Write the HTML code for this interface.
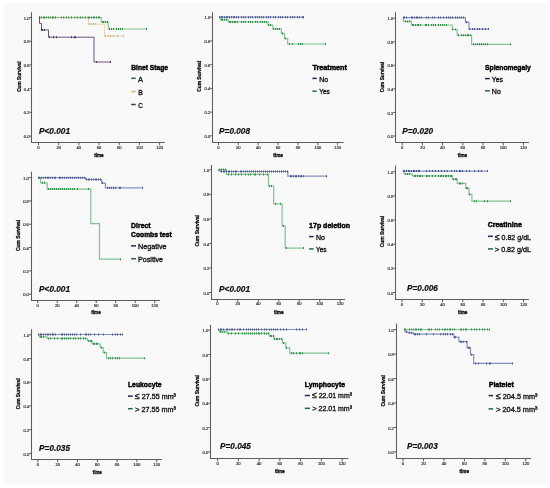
<!DOCTYPE html>
<html><head><meta charset="utf-8"><style>
html,body{margin:0;padding:0;background:#fff;width:550px;height:488px;overflow:hidden}
svg{position:absolute;left:0;top:0;display:block;filter:blur(0.3px)}
text{font-family:"Liberation Sans",sans-serif;fill:#1a1a1a}
.tk{font-size:4.1px;fill:#3a3a3a;stroke:#3a3a3a;stroke-width:0.2px}
.cum{font-size:5.5px;font-weight:bold;fill:#111;stroke:#111;stroke-width:0.3px}
.time{font-size:5.7px;font-weight:bold;fill:#111;stroke:#111;stroke-width:0.35px}
.pv{font-size:8.4px;font-weight:bold;font-style:italic;fill:#111;stroke:#111;stroke-width:0.22px}
.lt{font-size:7.5px;font-weight:bold;fill:#000;stroke:#000;stroke-width:0.45px}
.li{font-size:7.1px;fill:#151515;stroke:#151515;stroke-width:0.34px}
</style></head><body>
<svg width="550" height="488" viewBox="0 0 550 488">
<rect x="0" y="0" width="550" height="488" fill="#fff"/>
<rect x="3.5" y="3" width="543.3" height="481.4" fill="#f9f9f9"/>
<rect x="31.8" y="12.3" width="132.9" height="130" fill="#f9f9f9"/>
<path d="M31.5 12.3V142.5H164.7" fill="none" stroke="#5e5e5e" stroke-width="1.05"/>
<path d="M29.6 136.1H31.8" stroke="#4a4a4a" stroke-width="0.9"/>
<text x="29.5" y="138.2" class="tk" text-anchor="end">0.0</text>
<path d="M29.6 112.38H31.8" stroke="#4a4a4a" stroke-width="0.9"/>
<text x="29.5" y="114.48" class="tk" text-anchor="end">0.2</text>
<path d="M29.6 88.66H31.8" stroke="#4a4a4a" stroke-width="0.9"/>
<text x="29.5" y="90.76" class="tk" text-anchor="end">0.4</text>
<path d="M29.6 64.94H31.8" stroke="#4a4a4a" stroke-width="0.9"/>
<text x="29.5" y="67.04" class="tk" text-anchor="end">0.6</text>
<path d="M29.6 41.22H31.8" stroke="#4a4a4a" stroke-width="0.9"/>
<text x="29.5" y="43.32" class="tk" text-anchor="end">0.8</text>
<path d="M29.6 17.5H31.8" stroke="#4a4a4a" stroke-width="0.9"/>
<text x="29.5" y="19.6" class="tk" text-anchor="end">1.0</text>
<path d="M38.5 142.3V145.1" stroke="#4a4a4a" stroke-width="0.9"/>
<text x="38.5" y="148.6" class="tk" text-anchor="middle">0</text>
<path d="M58.68 142.3V145.1" stroke="#4a4a4a" stroke-width="0.9"/>
<text x="58.68" y="148.6" class="tk" text-anchor="middle">20</text>
<path d="M78.87 142.3V145.1" stroke="#4a4a4a" stroke-width="0.9"/>
<text x="78.87" y="148.6" class="tk" text-anchor="middle">40</text>
<path d="M99.05 142.3V145.1" stroke="#4a4a4a" stroke-width="0.9"/>
<text x="99.05" y="148.6" class="tk" text-anchor="middle">60</text>
<path d="M119.23 142.3V145.1" stroke="#4a4a4a" stroke-width="0.9"/>
<text x="119.23" y="148.6" class="tk" text-anchor="middle">80</text>
<path d="M139.42 142.3V145.1" stroke="#4a4a4a" stroke-width="0.9"/>
<text x="139.42" y="148.6" class="tk" text-anchor="middle">100</text>
<path d="M159.6 142.3V145.1" stroke="#4a4a4a" stroke-width="0.9"/>
<text x="159.6" y="148.6" class="tk" text-anchor="middle">120</text>
<path d="M39 17.5H88.5V24.1H104.5V36.1H123.9" fill="none" stroke="#e2d9b0" stroke-width="1.1"/>
<path d="M40.5 16.5V18.5M44.5 16.5V18.5M48.5 16.5V18.5M52.5 16.5V18.5M55.5 16.5V18.5M58.5 16.5V18.5M64.5 16.5V18.5M70.5 16.5V18.5M76.5 16.5V18.5M79.5 16.5V18.5M84.5 16.5V18.5M87.5 16.5V18.5M89.5 23.1V25.1M91.5 23.1V25.1M93.5 23.1V25.1M95.5 23.1V25.1M105.5 35.1V37.1M108.5 35.1V37.1M110.5 35.1V37.1M113.5 35.1V37.1M117.5 35.1V37.1M123.5 35.1V37.1" fill="none" stroke="#cdbd80" stroke-width="1.05"/>
<path d="M39 17.5H101.3V21.9H108.2V29H146.3" fill="none" stroke="#84c294" stroke-width="1.2"/>
<path d="M39.5 16.5V18.5M41.5 16.5V18.5M43.5 16.5V18.5M44.5 16.5V18.5M46.5 16.5V18.5M48.5 16.5V18.5M50.5 16.5V18.5M52.5 16.5V18.5M53.5 16.5V18.5M55.5 16.5V18.5M61.5 16.5V18.5M63.5 16.5V18.5M66.5 16.5V18.5M68.5 16.5V18.5M71.5 16.5V18.5M74.5 16.5V18.5M77.5 16.5V18.5M80.5 16.5V18.5M82.5 16.5V18.5M85.5 16.5V18.5M88.5 16.5V18.5M89.5 16.5V18.5M91.5 16.5V18.5M93.5 16.5V18.5M94.5 16.5V18.5M96.5 16.5V18.5M98.5 16.5V18.5M99.5 16.5V18.5M102.5 20.9V22.9M103.5 20.9V22.9M105.5 20.9V22.9M107.5 20.9V22.9M109.5 28V30M111.5 28V30M113.5 28V30M116.5 28V30M118.5 28V30M120.5 28V30M122.5 28V30M146.5 28V30" fill="none" stroke="#35934f" stroke-width="1.05"/>
<path d="M39 17.5H39.5V23.5H41.5V29.9H48.5V37.2H94V62H110.3" fill="none" stroke="#6c537a" stroke-width="1.0"/>
<path d="M39.5 16.5V18.5M41.5 28.9V30.9M42.5 28.9V30.9M44.5 28.9V30.9M49.5 36.2V38.2M53.5 36.2V38.2M56.5 36.2V38.2M71.5 36.2V38.2M74.5 36.2V38.2M75.5 36.2V38.2M96.5 61V63M110.5 61V63" fill="none" stroke="#553a60" stroke-width="1.05"/>
<text transform="translate(20.5 91.8) rotate(-90)" class="cum" textLength="30.3" lengthAdjust="spacingAndGlyphs">Cum Survival</text>
<text x="94.2" y="156.7" class="time" textLength="9.4" lengthAdjust="spacingAndGlyphs">time</text>
<text x="38.9" y="133.8" class="pv" textLength="31.2" lengthAdjust="spacingAndGlyphs">P&lt;0.001</text>
<text x="131.3" y="69.8" class="lt" textLength="36.7" lengthAdjust="spacingAndGlyphs">Binet Stage</text>
<path d="M131.3 78.3H135.7" stroke="#1f6a3c" stroke-width="1.5"/>
<text x="138" y="81.9" class="li" textLength="5" lengthAdjust="spacingAndGlyphs">A</text>
<path d="M131.3 91.6H135.7" stroke="#e0b850" stroke-width="1.5"/>
<text x="138.2" y="95" class="li" textLength="4.6" lengthAdjust="spacingAndGlyphs">B</text>
<path d="M131.3 104.5H135.7" stroke="#3e2e52" stroke-width="1.5"/>
<text x="138.2" y="107.8" class="li" textLength="4.6" lengthAdjust="spacingAndGlyphs">C</text>
<rect x="212.5" y="12.3" width="131" height="130" fill="#f9f9f9"/>
<path d="M212.5 12.3V142.5H343.5" fill="none" stroke="#5e5e5e" stroke-width="1.05"/>
<path d="M210.3 135.8H212.5" stroke="#4a4a4a" stroke-width="0.9"/>
<text x="210.2" y="137.9" class="tk" text-anchor="end">0.0</text>
<path d="M210.3 112.08H212.5" stroke="#4a4a4a" stroke-width="0.9"/>
<text x="210.2" y="114.18" class="tk" text-anchor="end">0.2</text>
<path d="M210.3 88.36H212.5" stroke="#4a4a4a" stroke-width="0.9"/>
<text x="210.2" y="90.46" class="tk" text-anchor="end">0.4</text>
<path d="M210.3 64.64H212.5" stroke="#4a4a4a" stroke-width="0.9"/>
<text x="210.2" y="66.74" class="tk" text-anchor="end">0.6</text>
<path d="M210.3 40.92H212.5" stroke="#4a4a4a" stroke-width="0.9"/>
<text x="210.2" y="43.02" class="tk" text-anchor="end">0.8</text>
<path d="M210.3 17.2H212.5" stroke="#4a4a4a" stroke-width="0.9"/>
<text x="210.2" y="19.3" class="tk" text-anchor="end">1.0</text>
<path d="M218.5 142.3V145.1" stroke="#4a4a4a" stroke-width="0.9"/>
<text x="218.5" y="148.6" class="tk" text-anchor="middle">0</text>
<path d="M238.37 142.3V145.1" stroke="#4a4a4a" stroke-width="0.9"/>
<text x="238.37" y="148.6" class="tk" text-anchor="middle">20</text>
<path d="M258.23 142.3V145.1" stroke="#4a4a4a" stroke-width="0.9"/>
<text x="258.23" y="148.6" class="tk" text-anchor="middle">40</text>
<path d="M278.1 142.3V145.1" stroke="#4a4a4a" stroke-width="0.9"/>
<text x="278.1" y="148.6" class="tk" text-anchor="middle">60</text>
<path d="M297.97 142.3V145.1" stroke="#4a4a4a" stroke-width="0.9"/>
<text x="297.97" y="148.6" class="tk" text-anchor="middle">80</text>
<path d="M317.83 142.3V145.1" stroke="#4a4a4a" stroke-width="0.9"/>
<text x="317.83" y="148.6" class="tk" text-anchor="middle">100</text>
<path d="M337.7 142.3V145.1" stroke="#4a4a4a" stroke-width="0.9"/>
<text x="337.7" y="148.6" class="tk" text-anchor="middle">120</text>
<path d="M219.5 17.2H220.6V19.7H228.3V21.9H268.1V25.1H272.8V28.9H281.3V33.4H284.5V38.6H287.7V44H325.6" fill="none" stroke="#84c294" stroke-width="1.2"/>
<path d="M221.5 18.7V20.7M222.5 18.7V20.7M224.5 18.7V20.7M226.5 18.7V20.7M229.5 20.9V22.9M230.5 20.9V22.9M232.5 20.9V22.9M234.5 20.9V22.9M235.5 20.9V22.9M237.5 20.9V22.9M241.5 20.9V22.9M243.5 20.9V22.9M245.5 20.9V22.9M248.5 20.9V22.9M250.5 20.9V22.9M252.5 20.9V22.9M255.5 20.9V22.9M257.5 20.9V22.9M260.5 20.9V22.9M262.5 20.9V22.9M264.5 20.9V22.9M266.5 20.9V22.9M268.5 24.1V26.1M270.5 24.1V26.1M273.5 27.9V29.9M275.5 27.9V29.9M277.5 27.9V29.9M279.5 27.9V29.9M282.5 32.4V34.4M285.5 37.6V39.6M289.5 43V45M292.5 43V45M298.5 43V45M300.5 43V45M302.5 43V45M325.5 43V45" fill="none" stroke="#35934f" stroke-width="1.05"/>
<path d="M219.5 17.2H303.6" fill="none" stroke="#8691bb" stroke-width="1.2"/>
<path d="M219.5 16.2V18.2M221.5 16.2V18.2M222.5 16.2V18.2M224.5 16.2V18.2M226.5 16.2V18.2M227.5 16.2V18.2M229.5 16.2V18.2M231.5 16.2V18.2M233.5 16.2V18.2M234.5 16.2V18.2M236.5 16.2V18.2M238.5 16.2V18.2M241.5 16.2V18.2M243.5 16.2V18.2M245.5 16.2V18.2M248.5 16.2V18.2M250.5 16.2V18.2M252.5 16.2V18.2M255.5 16.2V18.2M257.5 16.2V18.2M259.5 16.2V18.2M261.5 16.2V18.2M263.5 16.2V18.2M266.5 16.2V18.2M268.5 16.2V18.2M270.5 16.2V18.2M273.5 16.2V18.2M275.5 16.2V18.2M278.5 16.2V18.2M280.5 16.2V18.2M282.5 16.2V18.2M285.5 16.2V18.2M287.5 16.2V18.2M290.5 16.2V18.2M292.5 16.2V18.2M294.5 16.2V18.2M297.5 16.2V18.2M299.5 16.2V18.2M302.5 16.2V18.2M303.5 16.2V18.2" fill="none" stroke="#4d5a94" stroke-width="1.05"/>
<text transform="translate(200.85 91.8) rotate(-90)" class="cum" textLength="30.9" lengthAdjust="spacingAndGlyphs">Cum Survival</text>
<text x="273.3" y="156.8" class="time" textLength="9.6" lengthAdjust="spacingAndGlyphs">time</text>
<text x="219.1" y="133.6" class="pv" textLength="30.9" lengthAdjust="spacingAndGlyphs">P=0.008</text>
<text x="312.4" y="69.7" class="lt" textLength="34.5" lengthAdjust="spacingAndGlyphs">Treatment</text>
<path d="M312.4 78.4H316.7" stroke="#1e2a58" stroke-width="1.5"/>
<text x="319.2" y="81.7" class="li" textLength="9" lengthAdjust="spacingAndGlyphs">No</text>
<path d="M312.4 91.2H316.7" stroke="#1f6a3c" stroke-width="1.5"/>
<text x="319.2" y="94.3" class="li" textLength="10.5" lengthAdjust="spacingAndGlyphs">Yes</text>
<rect x="395.5" y="12.3" width="133.3" height="130.3" fill="#f9f9f9"/>
<path d="M395.5 12.3V142.5H528.8" fill="none" stroke="#5e5e5e" stroke-width="1.05"/>
<path d="M393.3 136H395.5" stroke="#4a4a4a" stroke-width="0.9"/>
<text x="393.2" y="138.1" class="tk" text-anchor="end">0.0</text>
<path d="M393.3 112.44H395.5" stroke="#4a4a4a" stroke-width="0.9"/>
<text x="393.2" y="114.54" class="tk" text-anchor="end">0.2</text>
<path d="M393.3 88.88H395.5" stroke="#4a4a4a" stroke-width="0.9"/>
<text x="393.2" y="90.98" class="tk" text-anchor="end">0.4</text>
<path d="M393.3 65.32H395.5" stroke="#4a4a4a" stroke-width="0.9"/>
<text x="393.2" y="67.42" class="tk" text-anchor="end">0.6</text>
<path d="M393.3 41.76H395.5" stroke="#4a4a4a" stroke-width="0.9"/>
<text x="393.2" y="43.86" class="tk" text-anchor="end">0.8</text>
<path d="M393.3 18.2H395.5" stroke="#4a4a4a" stroke-width="0.9"/>
<text x="393.2" y="20.3" class="tk" text-anchor="end">1.0</text>
<path d="M402.2 142.6V145.4" stroke="#4a4a4a" stroke-width="0.9"/>
<text x="402.2" y="148.9" class="tk" text-anchor="middle">0</text>
<path d="M422.4 142.6V145.4" stroke="#4a4a4a" stroke-width="0.9"/>
<text x="422.4" y="148.9" class="tk" text-anchor="middle">20</text>
<path d="M442.6 142.6V145.4" stroke="#4a4a4a" stroke-width="0.9"/>
<text x="442.6" y="148.9" class="tk" text-anchor="middle">40</text>
<path d="M462.8 142.6V145.4" stroke="#4a4a4a" stroke-width="0.9"/>
<text x="462.8" y="148.9" class="tk" text-anchor="middle">60</text>
<path d="M483 142.6V145.4" stroke="#4a4a4a" stroke-width="0.9"/>
<text x="483" y="148.9" class="tk" text-anchor="middle">80</text>
<path d="M503.2 142.6V145.4" stroke="#4a4a4a" stroke-width="0.9"/>
<text x="503.2" y="148.9" class="tk" text-anchor="middle">100</text>
<path d="M523.4 142.6V145.4" stroke="#4a4a4a" stroke-width="0.9"/>
<text x="523.4" y="148.9" class="tk" text-anchor="middle">120</text>
<path d="M402.9 17.6H403.5V21.4H411.4V25H452.3V29.5H457.2V35.3H471.6V44.3H510.6" fill="none" stroke="#84c294" stroke-width="1.2"/>
<path d="M405.5 20.4V22.4M407.5 20.4V22.4M409.5 20.4V22.4M412.5 24V26M413.5 24V26M415.5 24V26M417.5 24V26M418.5 24V26M420.5 24V26M425.5 24V26M426.5 24V26M428.5 24V26M431.5 24V26M433.5 24V26M435.5 24V26M438.5 24V26M440.5 24V26M442.5 24V26M444.5 24V26M446.5 24V26M452.5 28.5V30.5M455.5 28.5V30.5M458.5 34.3V36.3M461.5 34.3V36.3M463.5 34.3V36.3M465.5 34.3V36.3M467.5 34.3V36.3M468.5 34.3V36.3M470.5 34.3V36.3M473.5 43.3V45.3M475.5 43.3V45.3M477.5 43.3V45.3M479.5 43.3V45.3M481.5 43.3V45.3M483.5 43.3V45.3M485.5 43.3V45.3M487.5 43.3V45.3M510.5 43.3V45.3" fill="none" stroke="#35934f" stroke-width="1.05"/>
<path d="M402.9 17.6H465.4V22.2H469V29.1H488.6" fill="none" stroke="#8691bb" stroke-width="1.2"/>
<path d="M403.5 16.6V18.6M404.5 16.6V18.6M406.5 16.6V18.6M411.5 16.6V18.6M412.5 16.6V18.6M414.5 16.6V18.6M416.5 16.6V18.6M417.5 16.6V18.6M419.5 16.6V18.6M421.5 16.6V18.6M426.5 16.6V18.6M428.5 16.6V18.6M432.5 16.6V18.6M434.5 16.6V18.6M438.5 16.6V18.6M440.5 16.6V18.6M443.5 16.6V18.6M446.5 16.6V18.6M448.5 16.6V18.6M450.5 16.6V18.6M452.5 16.6V18.6M455.5 16.6V18.6M457.5 16.6V18.6M459.5 16.6V18.6M461.5 16.6V18.6M463.5 16.6V18.6M466.5 21.2V23.2M469.5 28.1V30.1M472.5 28.1V30.1M474.5 28.1V30.1M477.5 28.1V30.1M479.5 28.1V30.1M482.5 28.1V30.1M485.5 28.1V30.1M488.5 28.1V30.1" fill="none" stroke="#4d5a94" stroke-width="1.05"/>
<text transform="translate(383.95 92.3) rotate(-90)" class="cum" textLength="30.6" lengthAdjust="spacingAndGlyphs">Cum Survival</text>
<text x="457.7" y="156.8" class="time" textLength="9.5" lengthAdjust="spacingAndGlyphs">time</text>
<text x="402.3" y="133.6" class="pv" textLength="30.9" lengthAdjust="spacingAndGlyphs">P=0.020</text>
<text x="485" y="70.1" class="lt" textLength="45.8" lengthAdjust="spacingAndGlyphs">Splenomegaly</text>
<path d="M485 78.6H489.8" stroke="#1e2a58" stroke-width="1.5"/>
<text x="491.8" y="81.6" class="li" textLength="11" lengthAdjust="spacingAndGlyphs">Yes</text>
<path d="M485 90.8H489.8" stroke="#1f6a3c" stroke-width="1.5"/>
<text x="491.8" y="94" class="li" textLength="9" lengthAdjust="spacingAndGlyphs">No</text>
<rect x="31.2" y="171.7" width="128.8" height="128.5" fill="#f9f9f9"/>
<path d="M31.5 171.7V300.5H160" fill="none" stroke="#5e5e5e" stroke-width="1.05"/>
<path d="M29 294.2H31.2" stroke="#4a4a4a" stroke-width="0.9"/>
<text x="28.9" y="296.3" class="tk" text-anchor="end">0.0</text>
<path d="M29 270.88H31.2" stroke="#4a4a4a" stroke-width="0.9"/>
<text x="28.9" y="272.98" class="tk" text-anchor="end">0.2</text>
<path d="M29 247.56H31.2" stroke="#4a4a4a" stroke-width="0.9"/>
<text x="28.9" y="249.66" class="tk" text-anchor="end">0.4</text>
<path d="M29 224.24H31.2" stroke="#4a4a4a" stroke-width="0.9"/>
<text x="28.9" y="226.34" class="tk" text-anchor="end">0.6</text>
<path d="M29 200.92H31.2" stroke="#4a4a4a" stroke-width="0.9"/>
<text x="28.9" y="203.02" class="tk" text-anchor="end">0.8</text>
<path d="M29 177.6H31.2" stroke="#4a4a4a" stroke-width="0.9"/>
<text x="28.9" y="179.7" class="tk" text-anchor="end">1.0</text>
<path d="M37.7 300.2V303" stroke="#4a4a4a" stroke-width="0.9"/>
<text x="37.7" y="306.5" class="tk" text-anchor="middle">0</text>
<path d="M57.2 300.2V303" stroke="#4a4a4a" stroke-width="0.9"/>
<text x="57.2" y="306.5" class="tk" text-anchor="middle">20</text>
<path d="M76.7 300.2V303" stroke="#4a4a4a" stroke-width="0.9"/>
<text x="76.7" y="306.5" class="tk" text-anchor="middle">40</text>
<path d="M96.2 300.2V303" stroke="#4a4a4a" stroke-width="0.9"/>
<text x="96.2" y="306.5" class="tk" text-anchor="middle">60</text>
<path d="M115.7 300.2V303" stroke="#4a4a4a" stroke-width="0.9"/>
<text x="115.7" y="306.5" class="tk" text-anchor="middle">80</text>
<path d="M135.2 300.2V303" stroke="#4a4a4a" stroke-width="0.9"/>
<text x="135.2" y="306.5" class="tk" text-anchor="middle">100</text>
<path d="M154.7 300.2V303" stroke="#4a4a4a" stroke-width="0.9"/>
<text x="154.7" y="306.5" class="tk" text-anchor="middle">120</text>
<path d="M37.9 177.7H40.6V182.8H47.2V189.1H90.8V223.7H99.5V259.2H120" fill="none" stroke="#84c294" stroke-width="1.2"/>
<path d="M42.5 181.8V183.8M44.5 181.8V183.8M48.5 188.1V190.1M50.5 188.1V190.1M52.5 188.1V190.1M54.5 188.1V190.1M56.5 188.1V190.1M58.5 188.1V190.1M60.5 188.1V190.1M62.5 188.1V190.1M64.5 188.1V190.1M66.5 188.1V190.1M68.5 188.1V190.1M70.5 188.1V190.1M72.5 188.1V190.1M74.5 188.1V190.1M77.5 188.1V190.1M88.5 188.1V190.1M120.5 258.2V260.2" fill="none" stroke="#35934f" stroke-width="1.05"/>
<path d="M37.9 177.7H85.6V179.5H101.6V183.1H105.4V187.8H142.5" fill="none" stroke="#8691bb" stroke-width="1.2"/>
<path d="M38.5 176.7V178.7M39.5 176.7V178.7M41.5 176.7V178.7M43.5 176.7V178.7M45.5 176.7V178.7M47.5 176.7V178.7M48.5 176.7V178.7M50.5 176.7V178.7M52.5 176.7V178.7M54.5 176.7V178.7M55.5 176.7V178.7M59.5 176.7V178.7M60.5 176.7V178.7M62.5 176.7V178.7M64.5 176.7V178.7M66.5 176.7V178.7M68.5 176.7V178.7M70.5 176.7V178.7M72.5 176.7V178.7M74.5 176.7V178.7M76.5 176.7V178.7M78.5 176.7V178.7M80.5 176.7V178.7M82.5 176.7V178.7M84.5 176.7V178.7M86.5 178.5V180.5M88.5 178.5V180.5M89.5 178.5V180.5M91.5 178.5V180.5M93.5 178.5V180.5M95.5 178.5V180.5M96.5 178.5V180.5M98.5 178.5V180.5M100.5 178.5V180.5M102.5 182.1V184.1M107.5 186.8V188.8M109.5 186.8V188.8M111.5 186.8V188.8M113.5 186.8V188.8M115.5 186.8V188.8M119.5 186.8V188.8M120.5 186.8V188.8M142.5 186.8V188.8" fill="none" stroke="#4d5a94" stroke-width="1.05"/>
<text transform="translate(20 251) rotate(-90)" class="cum" textLength="31.2" lengthAdjust="spacingAndGlyphs">Cum Survival</text>
<text x="91.3" y="314.4" class="time" textLength="9.4" lengthAdjust="spacingAndGlyphs">time</text>
<text x="39.1" y="291.6" class="pv" textLength="30.9" lengthAdjust="spacingAndGlyphs">P&lt;0.001</text>
<text x="131.1" y="227.6" class="lt" textLength="19.5" lengthAdjust="spacingAndGlyphs">Direct</text>
<text x="131.1" y="237" class="lt" textLength="40.6" lengthAdjust="spacingAndGlyphs">Coombs test</text>
<path d="M131.1 245.9H136" stroke="#1e2a58" stroke-width="1.5"/>
<text x="138.1" y="249" class="li" textLength="28.4" lengthAdjust="spacingAndGlyphs">Negative</text>
<path d="M131.1 258.7H136" stroke="#1f6a3c" stroke-width="1.5"/>
<text x="138.1" y="261.6" class="li" textLength="24.9" lengthAdjust="spacingAndGlyphs">Positive</text>
<rect x="211.5" y="164.9" width="133.6" height="134.2" fill="#f9f9f9"/>
<path d="M211.5 164.9V299.5H345.1" fill="none" stroke="#5e5e5e" stroke-width="1.05"/>
<path d="M209.3 292.5H211.5" stroke="#4a4a4a" stroke-width="0.9"/>
<text x="209.2" y="294.6" class="tk" text-anchor="end">0.0</text>
<path d="M209.3 267.96H211.5" stroke="#4a4a4a" stroke-width="0.9"/>
<text x="209.2" y="270.06" class="tk" text-anchor="end">0.2</text>
<path d="M209.3 243.42H211.5" stroke="#4a4a4a" stroke-width="0.9"/>
<text x="209.2" y="245.52" class="tk" text-anchor="end">0.4</text>
<path d="M209.3 218.88H211.5" stroke="#4a4a4a" stroke-width="0.9"/>
<text x="209.2" y="220.98" class="tk" text-anchor="end">0.6</text>
<path d="M209.3 194.34H211.5" stroke="#4a4a4a" stroke-width="0.9"/>
<text x="209.2" y="196.44" class="tk" text-anchor="end">0.8</text>
<path d="M209.3 169.8H211.5" stroke="#4a4a4a" stroke-width="0.9"/>
<text x="209.2" y="171.9" class="tk" text-anchor="end">1.0</text>
<path d="M217.3 299.1V301.9" stroke="#4a4a4a" stroke-width="0.9"/>
<text x="217.3" y="305.4" class="tk" text-anchor="middle">0</text>
<path d="M237.78 299.1V301.9" stroke="#4a4a4a" stroke-width="0.9"/>
<text x="237.78" y="305.4" class="tk" text-anchor="middle">20</text>
<path d="M258.27 299.1V301.9" stroke="#4a4a4a" stroke-width="0.9"/>
<text x="258.27" y="305.4" class="tk" text-anchor="middle">40</text>
<path d="M278.75 299.1V301.9" stroke="#4a4a4a" stroke-width="0.9"/>
<text x="278.75" y="305.4" class="tk" text-anchor="middle">60</text>
<path d="M299.23 299.1V301.9" stroke="#4a4a4a" stroke-width="0.9"/>
<text x="299.23" y="305.4" class="tk" text-anchor="middle">80</text>
<path d="M319.72 299.1V301.9" stroke="#4a4a4a" stroke-width="0.9"/>
<text x="319.72" y="305.4" class="tk" text-anchor="middle">100</text>
<path d="M340.2 299.1V301.9" stroke="#4a4a4a" stroke-width="0.9"/>
<text x="340.2" y="305.4" class="tk" text-anchor="middle">120</text>
<path d="M217.9 169.5H226.4V174.4H268.5V186H273.7V203.8H282.1V226H285.2V248.1H303.7" fill="none" stroke="#84c294" stroke-width="1.2"/>
<path d="M219.5 168.5V170.5M221.5 168.5V170.5M223.5 168.5V170.5M225.5 168.5V170.5M228.5 173.4V175.4M231.5 173.4V175.4M235.5 173.4V175.4M238.5 173.4V175.4M241.5 173.4V175.4M245.5 173.4V175.4M248.5 173.4V175.4M250.5 173.4V175.4M254.5 173.4V175.4M255.5 173.4V175.4M259.5 173.4V175.4M263.5 173.4V175.4M267.5 173.4V175.4M269.5 185V187M271.5 185V187M275.5 202.8V204.8M280.5 202.8V204.8M283.5 225V227M286.5 247.1V249.1M303.5 247.1V249.1" fill="none" stroke="#35934f" stroke-width="1.05"/>
<path d="M217.9 170.6H220.6V171.5H287.8V176.2H326.8" fill="none" stroke="#8691bb" stroke-width="1.2"/>
<path d="M221.5 170.5V172.5M223.5 170.5V172.5M224.5 170.5V172.5M226.5 170.5V172.5M228.5 170.5V172.5M229.5 170.5V172.5M231.5 170.5V172.5M233.5 170.5V172.5M235.5 170.5V172.5M236.5 170.5V172.5M240.5 170.5V172.5M241.5 170.5V172.5M243.5 170.5V172.5M245.5 170.5V172.5M247.5 170.5V172.5M249.5 170.5V172.5M251.5 170.5V172.5M253.5 170.5V172.5M255.5 170.5V172.5M257.5 170.5V172.5M259.5 170.5V172.5M261.5 170.5V172.5M263.5 170.5V172.5M265.5 170.5V172.5M267.5 170.5V172.5M269.5 170.5V172.5M271.5 170.5V172.5M273.5 170.5V172.5M275.5 170.5V172.5M277.5 170.5V172.5M279.5 170.5V172.5M281.5 170.5V172.5M283.5 170.5V172.5M285.5 170.5V172.5M287.5 170.5V172.5M290.5 175.2V177.2M291.5 175.2V177.2M293.5 175.2V177.2M295.5 175.2V177.2M296.5 175.2V177.2M298.5 175.2V177.2M300.5 175.2V177.2M301.5 175.2V177.2M303.5 175.2V177.2M326.5 175.2V177.2" fill="none" stroke="#4d5a94" stroke-width="1.05"/>
<text transform="translate(199.15 246.6) rotate(-90)" class="cum" textLength="31.5" lengthAdjust="spacingAndGlyphs">Cum Survival</text>
<text x="274" y="313.5" class="time" textLength="9.6" lengthAdjust="spacingAndGlyphs">time</text>
<text x="219.1" y="291.6" class="pv" textLength="30.9" lengthAdjust="spacingAndGlyphs">P&lt;0.001</text>
<text x="309.1" y="227.5" class="lt" textLength="40.9" lengthAdjust="spacingAndGlyphs">17p deletion</text>
<path d="M309.1 236.6H313.6" stroke="#1e2a58" stroke-width="1.5"/>
<text x="316" y="239.9" class="li" textLength="9" lengthAdjust="spacingAndGlyphs">No</text>
<path d="M309.1 248.9H313.6" stroke="#1f6a3c" stroke-width="1.5"/>
<text x="316" y="252.4" class="li" textLength="10.5" lengthAdjust="spacingAndGlyphs">Yes</text>
<rect x="395.5" y="165.5" width="133.3" height="133.9" fill="#f9f9f9"/>
<path d="M395.5 165.5V299.5H528.8" fill="none" stroke="#5e5e5e" stroke-width="1.05"/>
<path d="M393.3 292.5H395.5" stroke="#4a4a4a" stroke-width="0.9"/>
<text x="393.2" y="294.6" class="tk" text-anchor="end">0.0</text>
<path d="M393.3 268.34H395.5" stroke="#4a4a4a" stroke-width="0.9"/>
<text x="393.2" y="270.44" class="tk" text-anchor="end">0.2</text>
<path d="M393.3 244.18H395.5" stroke="#4a4a4a" stroke-width="0.9"/>
<text x="393.2" y="246.28" class="tk" text-anchor="end">0.4</text>
<path d="M393.3 220.02H395.5" stroke="#4a4a4a" stroke-width="0.9"/>
<text x="393.2" y="222.12" class="tk" text-anchor="end">0.6</text>
<path d="M393.3 195.86H395.5" stroke="#4a4a4a" stroke-width="0.9"/>
<text x="393.2" y="197.96" class="tk" text-anchor="end">0.8</text>
<path d="M393.3 171.7H395.5" stroke="#4a4a4a" stroke-width="0.9"/>
<text x="393.2" y="173.8" class="tk" text-anchor="end">1.0</text>
<path d="M402 299.4V302.2" stroke="#4a4a4a" stroke-width="0.9"/>
<text x="402" y="305.7" class="tk" text-anchor="middle">0</text>
<path d="M422.27 299.4V302.2" stroke="#4a4a4a" stroke-width="0.9"/>
<text x="422.27" y="305.7" class="tk" text-anchor="middle">20</text>
<path d="M442.53 299.4V302.2" stroke="#4a4a4a" stroke-width="0.9"/>
<text x="442.53" y="305.7" class="tk" text-anchor="middle">40</text>
<path d="M462.8 299.4V302.2" stroke="#4a4a4a" stroke-width="0.9"/>
<text x="462.8" y="305.7" class="tk" text-anchor="middle">60</text>
<path d="M483.07 299.4V302.2" stroke="#4a4a4a" stroke-width="0.9"/>
<text x="483.07" y="305.7" class="tk" text-anchor="middle">80</text>
<path d="M503.33 299.4V302.2" stroke="#4a4a4a" stroke-width="0.9"/>
<text x="503.33" y="305.7" class="tk" text-anchor="middle">100</text>
<path d="M523.6 299.4V302.2" stroke="#4a4a4a" stroke-width="0.9"/>
<text x="523.6" y="305.7" class="tk" text-anchor="middle">120</text>
<path d="M402.9 171.1H404V173.9H412.2V175.9H452.3V179.3H457.2V183.4H465.7V188.2H469V194.4H471.9V201.2H510.6" fill="none" stroke="#84c294" stroke-width="1.2"/>
<path d="M405.5 172.9V174.9M407.5 172.9V174.9M409.5 172.9V174.9M414.5 174.9V176.9M415.5 174.9V176.9M417.5 174.9V176.9M419.5 174.9V176.9M420.5 174.9V176.9M422.5 174.9V176.9M426.5 174.9V176.9M427.5 174.9V176.9M429.5 174.9V176.9M432.5 174.9V176.9M435.5 174.9V176.9M438.5 174.9V176.9M440.5 174.9V176.9M441.5 174.9V176.9M443.5 174.9V176.9M445.5 174.9V176.9M446.5 174.9V176.9M448.5 174.9V176.9M450.5 174.9V176.9M451.5 174.9V176.9M453.5 178.3V180.3M455.5 178.3V180.3M456.5 178.3V180.3M459.5 182.4V184.4M460.5 182.4V184.4M462.5 182.4V184.4M466.5 187.2V189.2M467.5 187.2V189.2M469.5 193.4V195.4M474.5 200.2V202.2M476.5 200.2V202.2M484.5 200.2V202.2M487.5 200.2V202.2M510.5 200.2V202.2" fill="none" stroke="#35934f" stroke-width="1.05"/>
<path d="M402.9 171.1H487.7" fill="none" stroke="#8691bb" stroke-width="1.2"/>
<path d="M403.5 170.1V172.1M404.5 170.1V172.1M406.5 170.1V172.1M408.5 170.1V172.1M409.5 170.1V172.1M411.5 170.1V172.1M413.5 170.1V172.1M414.5 170.1V172.1M416.5 170.1V172.1M418.5 170.1V172.1M419.5 170.1V172.1M426.5 170.1V172.1M429.5 170.1V172.1M432.5 170.1V172.1M435.5 170.1V172.1M438.5 170.1V172.1M441.5 170.1V172.1M444.5 170.1V172.1M447.5 170.1V172.1M451.5 170.1V172.1M454.5 170.1V172.1M456.5 170.1V172.1M459.5 170.1V172.1M460.5 170.1V172.1M462.5 170.1V172.1M466.5 170.1V172.1M469.5 170.1V172.1M474.5 170.1V172.1M478.5 170.1V172.1M481.5 170.1V172.1M487.5 170.1V172.1" fill="none" stroke="#4d5a94" stroke-width="1.05"/>
<text transform="translate(384.05 247.3) rotate(-90)" class="cum" textLength="31.5" lengthAdjust="spacingAndGlyphs">Cum Survival</text>
<text x="457.9" y="313.8" class="time" textLength="9.5" lengthAdjust="spacingAndGlyphs">time</text>
<text x="407.1" y="290.6" class="pv" textLength="30.8" lengthAdjust="spacingAndGlyphs">P=0.006</text>
<text x="487.7" y="227.3" class="lt" textLength="34.1" lengthAdjust="spacingAndGlyphs">Creatinine</text>
<path d="M488 236.3H492.9" stroke="#1e2a58" stroke-width="1.5"/>
<text x="494.9" y="240" class="li" textLength="36.1" lengthAdjust="spacingAndGlyphs"><tspan style="font-size:8.6px">≤</tspan> 0.82 g/dL</text>
<path d="M488 248.9H492.9" stroke="#1f6a3c" stroke-width="1.5"/>
<text x="494.7" y="252.1" class="li" textLength="36.3" lengthAdjust="spacingAndGlyphs"><tspan style="font-size:7.6px">&gt;</tspan> 0.82 g/dL</text>
<rect x="31.5" y="329.2" width="130.3" height="130.1" fill="#f9f9f9"/>
<path d="M31.5 329.2V459.5H161.8" fill="none" stroke="#5e5e5e" stroke-width="1.05"/>
<path d="M29.3 453.4H31.5" stroke="#4a4a4a" stroke-width="0.9"/>
<text x="29.2" y="455.5" class="tk" text-anchor="end">0.0</text>
<path d="M29.3 429.68H31.5" stroke="#4a4a4a" stroke-width="0.9"/>
<text x="29.2" y="431.78" class="tk" text-anchor="end">0.2</text>
<path d="M29.3 405.96H31.5" stroke="#4a4a4a" stroke-width="0.9"/>
<text x="29.2" y="408.06" class="tk" text-anchor="end">0.4</text>
<path d="M29.3 382.24H31.5" stroke="#4a4a4a" stroke-width="0.9"/>
<text x="29.2" y="384.34" class="tk" text-anchor="end">0.6</text>
<path d="M29.3 358.52H31.5" stroke="#4a4a4a" stroke-width="0.9"/>
<text x="29.2" y="360.62" class="tk" text-anchor="end">0.8</text>
<path d="M29.3 334.8H31.5" stroke="#4a4a4a" stroke-width="0.9"/>
<text x="29.2" y="336.9" class="tk" text-anchor="end">1.0</text>
<path d="M37.9 459.3V462.1" stroke="#4a4a4a" stroke-width="0.9"/>
<text x="37.9" y="465.6" class="tk" text-anchor="middle">0</text>
<path d="M57.7 459.3V462.1" stroke="#4a4a4a" stroke-width="0.9"/>
<text x="57.7" y="465.6" class="tk" text-anchor="middle">20</text>
<path d="M77.5 459.3V462.1" stroke="#4a4a4a" stroke-width="0.9"/>
<text x="77.5" y="465.6" class="tk" text-anchor="middle">40</text>
<path d="M97.3 459.3V462.1" stroke="#4a4a4a" stroke-width="0.9"/>
<text x="97.3" y="465.6" class="tk" text-anchor="middle">60</text>
<path d="M117.1 459.3V462.1" stroke="#4a4a4a" stroke-width="0.9"/>
<text x="117.1" y="465.6" class="tk" text-anchor="middle">80</text>
<path d="M136.9 459.3V462.1" stroke="#4a4a4a" stroke-width="0.9"/>
<text x="136.9" y="465.6" class="tk" text-anchor="middle">100</text>
<path d="M156.7 459.3V462.1" stroke="#4a4a4a" stroke-width="0.9"/>
<text x="156.7" y="465.6" class="tk" text-anchor="middle">120</text>
<path d="M38.2 334.5H39.5V336.8H47.2V338.4H87.3V340.9H92.1V343.8H100.2V347.6H103.2V352.6H106.5V358.2H144.3" fill="none" stroke="#84c294" stroke-width="1.2"/>
<path d="M40.5 335.8V337.8M41.5 335.8V337.8M43.5 335.8V337.8M48.5 337.4V339.4M50.5 337.4V339.4M54.5 337.4V339.4M57.5 337.4V339.4M61.5 337.4V339.4M62.5 337.4V339.4M64.5 337.4V339.4M66.5 337.4V339.4M68.5 337.4V339.4M70.5 337.4V339.4M73.5 337.4V339.4M75.5 337.4V339.4M78.5 337.4V339.4M80.5 337.4V339.4M83.5 337.4V339.4M85.5 337.4V339.4M88.5 339.9V341.9M90.5 339.9V341.9M91.5 339.9V341.9M93.5 342.8V344.8M94.5 342.8V344.8M96.5 342.8V344.8M97.5 342.8V344.8M101.5 346.6V348.6M104.5 351.6V353.6M108.5 357.2V359.2M110.5 357.2V359.2M112.5 357.2V359.2M115.5 357.2V359.2M117.5 357.2V359.2M119.5 357.2V359.2M144.5 357.2V359.2" fill="none" stroke="#35934f" stroke-width="1.05"/>
<path d="M38.2 334.5H122.7" fill="none" stroke="#8691bb" stroke-width="1.2"/>
<path d="M38.5 333.5V335.5M40.5 333.5V335.5M41.5 333.5V335.5M43.5 333.5V335.5M45.5 333.5V335.5M47.5 333.5V335.5M48.5 333.5V335.5M50.5 333.5V335.5M52.5 333.5V335.5M53.5 333.5V335.5M55.5 333.5V335.5M61.5 333.5V335.5M62.5 333.5V335.5M64.5 333.5V335.5M66.5 333.5V335.5M68.5 333.5V335.5M70.5 333.5V335.5M72.5 333.5V335.5M74.5 333.5V335.5M76.5 333.5V335.5M80.5 333.5V335.5M85.5 333.5V335.5M86.5 333.5V335.5M88.5 333.5V335.5M90.5 333.5V335.5M94.5 333.5V335.5M98.5 333.5V335.5M103.5 333.5V335.5M112.5 333.5V335.5M115.5 333.5V335.5M117.5 333.5V335.5M120.5 333.5V335.5M122.5 333.5V335.5" fill="none" stroke="#4d5a94" stroke-width="1.05"/>
<text transform="translate(20.15 409.2) rotate(-90)" class="cum" textLength="30.7" lengthAdjust="spacingAndGlyphs">Cum Survival</text>
<text x="92.7" y="474.2" class="time" textLength="9.1" lengthAdjust="spacingAndGlyphs">time</text>
<text x="39.1" y="450.5" class="pv" textLength="30.9" lengthAdjust="spacingAndGlyphs">P=0.035</text>
<text x="128" y="387.1" class="lt" textLength="33.4" lengthAdjust="spacingAndGlyphs">Leukocyte</text>
<path d="M128 396.1H132.7" stroke="#1e2a58" stroke-width="1.5"/>
<text x="135" y="398.7" class="li" textLength="41" lengthAdjust="spacingAndGlyphs"><tspan style="font-size:8.6px">≤</tspan> 27.55 mm³</text>
<path d="M128 408.7H132.7" stroke="#1f6a3c" stroke-width="1.5"/>
<text x="135" y="411.8" class="li" textLength="41" lengthAdjust="spacingAndGlyphs"><tspan style="font-size:7.6px">&gt;</tspan> 27.55 mm³</text>
<rect x="210.5" y="324.9" width="137.9" height="133.7" fill="#f9f9f9"/>
<path d="M210.5 324.9V458.5H348.4" fill="none" stroke="#5e5e5e" stroke-width="1.05"/>
<path d="M208.3 452H210.5" stroke="#4a4a4a" stroke-width="0.9"/>
<text x="208.2" y="454.1" class="tk" text-anchor="end">0.0</text>
<path d="M208.3 427.62H210.5" stroke="#4a4a4a" stroke-width="0.9"/>
<text x="208.2" y="429.72" class="tk" text-anchor="end">0.2</text>
<path d="M208.3 403.24H210.5" stroke="#4a4a4a" stroke-width="0.9"/>
<text x="208.2" y="405.34" class="tk" text-anchor="end">0.4</text>
<path d="M208.3 378.86H210.5" stroke="#4a4a4a" stroke-width="0.9"/>
<text x="208.2" y="380.96" class="tk" text-anchor="end">0.6</text>
<path d="M208.3 354.48H210.5" stroke="#4a4a4a" stroke-width="0.9"/>
<text x="208.2" y="356.58" class="tk" text-anchor="end">0.8</text>
<path d="M208.3 330.1H210.5" stroke="#4a4a4a" stroke-width="0.9"/>
<text x="208.2" y="332.2" class="tk" text-anchor="end">1.0</text>
<path d="M217.6 458.6V461.4" stroke="#4a4a4a" stroke-width="0.9"/>
<text x="217.6" y="464.9" class="tk" text-anchor="middle">0</text>
<path d="M238.35 458.6V461.4" stroke="#4a4a4a" stroke-width="0.9"/>
<text x="238.35" y="464.9" class="tk" text-anchor="middle">20</text>
<path d="M259.1 458.6V461.4" stroke="#4a4a4a" stroke-width="0.9"/>
<text x="259.1" y="464.9" class="tk" text-anchor="middle">40</text>
<path d="M279.85 458.6V461.4" stroke="#4a4a4a" stroke-width="0.9"/>
<text x="279.85" y="464.9" class="tk" text-anchor="middle">60</text>
<path d="M300.6 458.6V461.4" stroke="#4a4a4a" stroke-width="0.9"/>
<text x="300.6" y="464.9" class="tk" text-anchor="middle">80</text>
<path d="M321.35 458.6V461.4" stroke="#4a4a4a" stroke-width="0.9"/>
<text x="321.35" y="464.9" class="tk" text-anchor="middle">100</text>
<path d="M342.1 458.6V461.4" stroke="#4a4a4a" stroke-width="0.9"/>
<text x="342.1" y="464.9" class="tk" text-anchor="middle">120</text>
<path d="M218.5 329.5H219.5V331.8H227.2V333.4H269.2V336H273.9V339H282.4V342.9H285.8V347.8H289.7V353.2H328.9" fill="none" stroke="#84c294" stroke-width="1.2"/>
<path d="M220.5 330.8V332.8M222.5 330.8V332.8M224.5 330.8V332.8M228.5 332.4V334.4M231.5 332.4V334.4M235.5 332.4V334.4M238.5 332.4V334.4M242.5 332.4V334.4M244.5 332.4V334.4M246.5 332.4V334.4M248.5 332.4V334.4M250.5 332.4V334.4M252.5 332.4V334.4M254.5 332.4V334.4M256.5 332.4V334.4M258.5 332.4V334.4M259.5 332.4V334.4M261.5 332.4V334.4M264.5 332.4V334.4M266.5 332.4V334.4M268.5 332.4V334.4M270.5 335V337M271.5 335V337M273.5 335V337M274.5 338V340M276.5 338V340M277.5 338V340M279.5 338V340M281.5 338V340M283.5 341.9V343.9M286.5 346.8V348.8M291.5 352.2V354.2M293.5 352.2V354.2M296.5 352.2V354.2M299.5 352.2V354.2M300.5 352.2V354.2M302.5 352.2V354.2M328.5 352.2V354.2" fill="none" stroke="#35934f" stroke-width="1.05"/>
<path d="M218.5 329.5H306.3" fill="none" stroke="#8691bb" stroke-width="1.2"/>
<path d="M218.5 328.5V330.5M220.5 328.5V330.5M221.5 328.5V330.5M223.5 328.5V330.5M226.5 328.5V330.5M227.5 328.5V330.5M229.5 328.5V330.5M231.5 328.5V330.5M232.5 328.5V330.5M234.5 328.5V330.5M237.5 328.5V330.5M239.5 328.5V330.5M240.5 328.5V330.5M243.5 328.5V330.5M246.5 328.5V330.5M248.5 328.5V330.5M250.5 328.5V330.5M252.5 328.5V330.5M254.5 328.5V330.5M256.5 328.5V330.5M258.5 328.5V330.5M261.5 328.5V330.5M264.5 328.5V330.5M266.5 328.5V330.5M269.5 328.5V330.5M271.5 328.5V330.5M273.5 328.5V330.5M275.5 328.5V330.5M277.5 328.5V330.5M280.5 328.5V330.5M283.5 328.5V330.5M286.5 328.5V330.5M296.5 328.5V330.5M299.5 328.5V330.5M302.5 328.5V330.5M306.5 328.5V330.5" fill="none" stroke="#4d5a94" stroke-width="1.05"/>
<text transform="translate(198.95 406.6) rotate(-90)" class="cum" textLength="31.5" lengthAdjust="spacingAndGlyphs">Cum Survival</text>
<text x="274.9" y="473.3" class="time" textLength="9.8" lengthAdjust="spacingAndGlyphs">time</text>
<text x="220" y="448.7" class="pv" textLength="30.9" lengthAdjust="spacingAndGlyphs">P=0.045</text>
<text x="304.8" y="387.1" class="lt" textLength="40.2" lengthAdjust="spacingAndGlyphs">Lymphocyte</text>
<path d="M304.8 395.5H309.9" stroke="#1e2a58" stroke-width="1.5"/>
<text x="312.2" y="398.3" class="li" textLength="39.8" lengthAdjust="spacingAndGlyphs"><tspan style="font-size:8.6px">≤</tspan> 22.01 mm³</text>
<path d="M304.8 408.3H309.9" stroke="#1f6a3c" stroke-width="1.5"/>
<text x="312.2" y="411.1" class="li" textLength="39.8" lengthAdjust="spacingAndGlyphs"><tspan style="font-size:7.6px">&gt;</tspan> 22.01 mm³</text>
<rect x="396.2" y="323.4" width="134.8" height="135.2" fill="#f9f9f9"/>
<path d="M396.5 323.4V458.5H531" fill="none" stroke="#5e5e5e" stroke-width="1.05"/>
<path d="M394 452H396.2" stroke="#4a4a4a" stroke-width="0.9"/>
<text x="393.9" y="454.1" class="tk" text-anchor="end">0.0</text>
<path d="M394 427.52H396.2" stroke="#4a4a4a" stroke-width="0.9"/>
<text x="393.9" y="429.62" class="tk" text-anchor="end">0.2</text>
<path d="M394 403.04H396.2" stroke="#4a4a4a" stroke-width="0.9"/>
<text x="393.9" y="405.14" class="tk" text-anchor="end">0.4</text>
<path d="M394 378.56H396.2" stroke="#4a4a4a" stroke-width="0.9"/>
<text x="393.9" y="380.66" class="tk" text-anchor="end">0.6</text>
<path d="M394 354.08H396.2" stroke="#4a4a4a" stroke-width="0.9"/>
<text x="393.9" y="356.18" class="tk" text-anchor="end">0.8</text>
<path d="M394 329.6H396.2" stroke="#4a4a4a" stroke-width="0.9"/>
<text x="393.9" y="331.7" class="tk" text-anchor="end">1.0</text>
<path d="M403 458.6V461.4" stroke="#4a4a4a" stroke-width="0.9"/>
<text x="403" y="464.9" class="tk" text-anchor="middle">0</text>
<path d="M423.47 458.6V461.4" stroke="#4a4a4a" stroke-width="0.9"/>
<text x="423.47" y="464.9" class="tk" text-anchor="middle">20</text>
<path d="M443.93 458.6V461.4" stroke="#4a4a4a" stroke-width="0.9"/>
<text x="443.93" y="464.9" class="tk" text-anchor="middle">40</text>
<path d="M464.4 458.6V461.4" stroke="#4a4a4a" stroke-width="0.9"/>
<text x="464.4" y="464.9" class="tk" text-anchor="middle">60</text>
<path d="M484.87 458.6V461.4" stroke="#4a4a4a" stroke-width="0.9"/>
<text x="484.87" y="464.9" class="tk" text-anchor="middle">80</text>
<path d="M505.33 458.6V461.4" stroke="#4a4a4a" stroke-width="0.9"/>
<text x="505.33" y="464.9" class="tk" text-anchor="middle">100</text>
<path d="M525.8 458.6V461.4" stroke="#4a4a4a" stroke-width="0.9"/>
<text x="525.8" y="464.9" class="tk" text-anchor="middle">120</text>
<path d="M404 329.5H405.1V331.8H408.1V332.8H413.3V334.2H453.9V337.2H458.9V341.7H467.1V347.8H470.5V354.7H473.7V363.4H512.6" fill="none" stroke="#8691bb" stroke-width="1.2"/>
<path d="M406.5 330.8V332.8M409.5 331.8V333.8M411.5 331.8V333.8M414.5 333.2V335.2M415.5 333.2V335.2M417.5 333.2V335.2M419.5 333.2V335.2M426.5 333.2V335.2M433.5 333.2V335.2M440.5 333.2V335.2M443.5 333.2V335.2M445.5 333.2V335.2M447.5 333.2V335.2M450.5 333.2V335.2M452.5 333.2V335.2M454.5 336.2V338.2M455.5 336.2V338.2M460.5 340.7V342.7M461.5 340.7V342.7M463.5 340.7V342.7M466.5 340.7V342.7M468.5 346.8V348.8M469.5 346.8V348.8M471.5 353.7V355.7M475.5 362.4V364.4M478.5 362.4V364.4M486.5 362.4V364.4M489.5 362.4V364.4M490.5 362.4V364.4M512.5 362.4V364.4" fill="none" stroke="#4d5a94" stroke-width="1.05"/>
<path d="M404 329.5H489.7" fill="none" stroke="#84c294" stroke-width="1.2"/>
<path d="M404.5 328.5V330.5M405.5 328.5V330.5M409.5 328.5V330.5M411.5 328.5V330.5M413.5 328.5V330.5M415.5 328.5V330.5M416.5 328.5V330.5M418.5 328.5V330.5M420.5 328.5V330.5M421.5 328.5V330.5M428.5 328.5V330.5M429.5 328.5V330.5M431.5 328.5V330.5M435.5 328.5V330.5M437.5 328.5V330.5M439.5 328.5V330.5M442.5 328.5V330.5M444.5 328.5V330.5M445.5 328.5V330.5M447.5 328.5V330.5M449.5 328.5V330.5M450.5 328.5V330.5M452.5 328.5V330.5M454.5 328.5V330.5M460.5 328.5V330.5M461.5 328.5V330.5M463.5 328.5V330.5M465.5 328.5V330.5M466.5 328.5V330.5M471.5 328.5V330.5M474.5 328.5V330.5M476.5 328.5V330.5M479.5 328.5V330.5M482.5 328.5V330.5M484.5 328.5V330.5M487.5 328.5V330.5M489.5 328.5V330.5" fill="none" stroke="#35934f" stroke-width="1.05"/>
<text transform="translate(384.85 406.6) rotate(-90)" class="cum" textLength="31.5" lengthAdjust="spacingAndGlyphs">Cum Survival</text>
<text x="459.5" y="473.3" class="time" textLength="9.5" lengthAdjust="spacingAndGlyphs">time</text>
<text x="407.1" y="448.7" class="pv" textLength="30.6" lengthAdjust="spacingAndGlyphs">P=0.003</text>
<text x="488.7" y="386.9" class="lt" textLength="25.1" lengthAdjust="spacingAndGlyphs">Platelet</text>
<path d="M488.5 395.6H493.1" stroke="#1e2a58" stroke-width="1.5"/>
<text x="496" y="399" class="li" textLength="41.4" lengthAdjust="spacingAndGlyphs"><tspan style="font-size:8.6px">≤</tspan> 204.5 mm³</text>
<path d="M488.5 408.9H493.1" stroke="#1f6a3c" stroke-width="1.5"/>
<text x="496" y="411.5" class="li" textLength="41.4" lengthAdjust="spacingAndGlyphs"><tspan style="font-size:7.6px">&gt;</tspan> 204.5 mm³</text>
</svg>
</body></html>
